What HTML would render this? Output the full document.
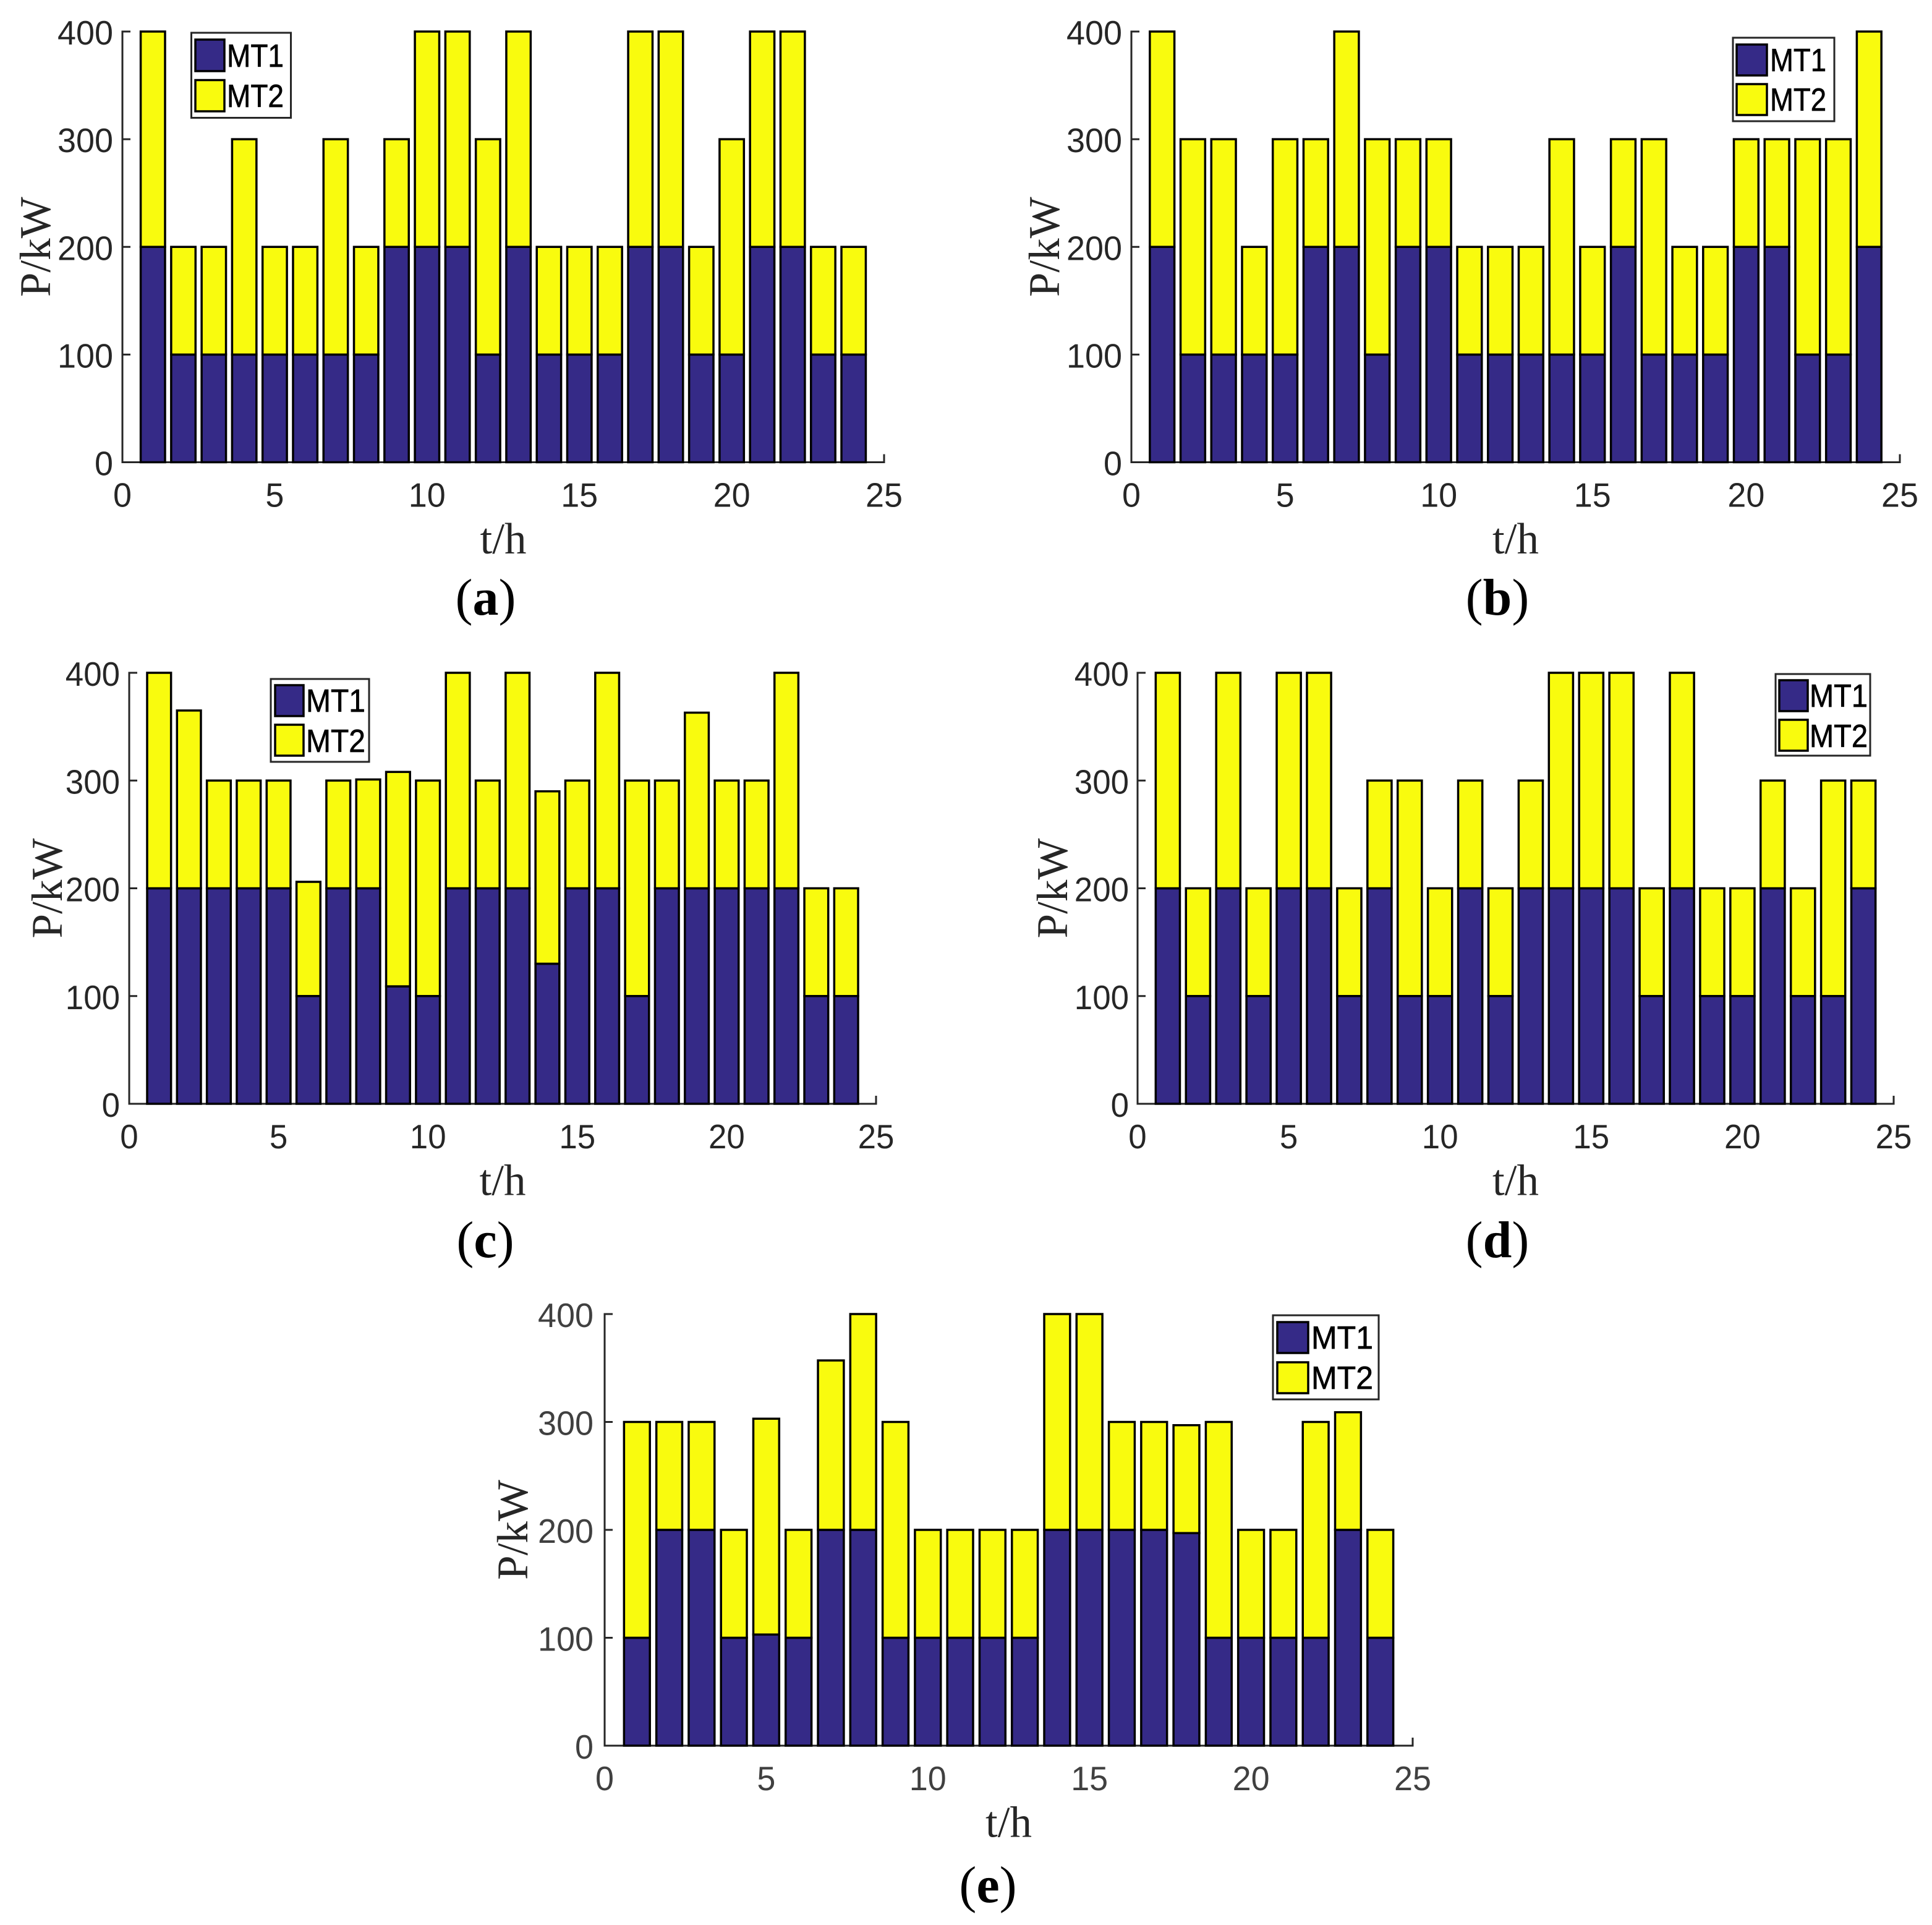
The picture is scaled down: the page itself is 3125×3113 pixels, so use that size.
<!DOCTYPE html>
<html lang="en">
<head>
<meta charset="utf-8">
<title>MT1 and MT2 output by hour</title>
<style>
html,body{margin:0;padding:0;background:#fff;}
svg{display:block;}
.sans{font-family:"Liberation Sans",sans-serif;}
.serif{font-family:"Liberation Serif",serif;}
</style>
</head>
<body>
<svg id="figure" xmlns="http://www.w3.org/2000/svg" width="3125" height="3113" viewBox="0 0 3125 3113"></svg>
<script>
const xTicks = [0, 5, 10, 15, 20, 25];
const yTicks = [0, 100, 200, 300, 400];
const hours = [1,2,3,4,5,6,7,8,9,10,11,12,13,14,15,16,17,18,19,20,21,22,23,24];
const seriesNames = ['MT1', 'MT2'];

const panelAMt1 = [200,100,100,100,100,100,100,100,200,200,200,100,200,100,100,100,200,200,100,100,200,200,100,100];
const panelAMt2 = [200,100,100,200,100,100,200,100,100,200,200,200,200,100,100,100,200,200,100,200,200,200,100,100];

const panelBMt1 = [200,100,100,100,100,200,200,100,200,200,100,100,100,100,100,200,100,100,100,200,200,100,100,200];
const panelBMt2 = [200,200,200,100,200,100,200,200,100,100,100,100,100,200,100,100,200,100,100,100,100,200,200,200];

const panelCMt1 = [200,200,200,200,200,100,200,200,109,100,200,200,200,130,200,200,100,200,200,200,200,200,100,100];
const panelCMt2 = [200,165,100,100,100,106,100,101,199,200,200,100,200,160,100,200,200,100,163,100,100,200,100,100];

const panelDMt1 = [200,100,200,100,200,200,100,200,100,100,200,100,200,200,200,200,100,200,100,100,200,100,100,200];
const panelDMt2 = [200,100,200,100,200,200,100,100,200,100,100,100,100,200,200,200,100,200,100,100,100,100,200,100];

const panelEMt1 = [100,200,200,100,103,100,200,200,100,100,100,100,100,200,200,200,200,197,100,100,100,100,200,100];
const panelEMt2 = [200,100,100,100,200,100,157,200,200,100,100,100,100,200,200,100,100,100,200,100,100,200,109,100];

const layouts = [
  {id:'a', mt1:panelAMt1, mt2:panelAMt2, x0:198,  x25:1430, yTop:51,   yZero:747.5, tickGap:15, digitW:30,   labelGap:117, ink:'#262626', capX:785.5,capY:994,
   box:[309.5,53,161,137.5],sw:[316,47,64,51,129.5,50.5],txt:[367,108,173,92]},
  {id:'b', mt1:panelBMt1, mt2:panelBMt2, x0:1830, x25:3073, yTop:51,   yZero:747.5, tickGap:15, digitW:30,   labelGap:117, ink:'#262626', capX:2422, capY:994,
   box:[2803,61,164,135], sw:[2809,49,72,50,136,50],  txt:[2863,115,179,91]},
  {id:'c', mt1:panelCMt1, mt2:panelCMt2, x0:209,  x25:1417, yTop:1088, yZero:1785,  tickGap:15, digitW:29.4, labelGap:109, ink:'#262626', capX:785,  capY:2033,
   box:[438,1098,159,134],sw:[445,46,1108,50,1172,50],txt:[495,1151,1216,96]},
  {id:'d', mt1:panelDMt1, mt2:panelDMt2, x0:1840, x25:3063, yTop:1088, yZero:1785,  tickGap:14, digitW:29.4, labelGap:114, ink:'#262626', capX:2422, capY:2033,
   box:[2872,1090,153,132],sw:[2878,46,1100,50,1164,50],txt:[2927,1143,1208,94]},
  {id:'e', mt1:panelEMt1, mt2:panelEMt2, x0:978,  x25:2285, yTop:2125, yZero:2823,  tickGap:18, digitW:30,   labelGap:125, ink:'#404040', capX:1598, capY:3076,
   box:[2059,2127,171,136],sw:[2066,50,2138,50,2203,50],txt:[2121,2181,2246,100]}
];

const NS = 'http://www.w3.org/2000/svg';
const NAVY = '#352a87';
const YELLOW = '#f9fb0e';
const root = document.getElementById('figure');

function make(parent, tag, attrs, text) {
  const el = document.createElementNS(NS, tag);
  for (const k in attrs) el.setAttribute(k, attrs[k]);
  if (text !== undefined) el.textContent = text;
  parent.appendChild(el);
  return el;
}

function drawPanel(p) {
  const xScale = v => p.x0 + (p.x25 - p.x0) * v / 25;
  const yScale = v => p.yZero - (p.yZero - p.yTop) * v / 400;
  const barWidth = (xScale(1) - xScale(0)) * 0.8;

  const g = make(root, 'g', {});
  
  

  // axes
  const axes = make(g, 'g', {stroke:'#262626', 'stroke-width':3, fill:'none'});
  
  
  make(axes, 'line', {x1:p.x0, x2:p.x0, y1:yScale(400) - 1.5, y2:yScale(0) + 1.5});
  make(axes, 'line', {x1:p.x0, x2:p.x25 + 1.5, y1:yScale(0), y2:yScale(0)});

  yTicks.forEach(v => {
    make(axes, 'line', {x1:p.x0, x2:p.x0 + 13, y1:yScale(v), y2:yScale(v)});
    const label = String(v);
    const t = make(g, 'text', {x:p.x0 - p.tickGap, y:yScale(v) + 21, 'text-anchor':'end', 'font-size':55, fill:p.ink, class:'sans', textLength:label.length * p.digitW, lengthAdjust:'spacingAndGlyphs'}, label);
    
    
  });
  xTicks.forEach(v => {
    make(axes, 'line', {x1:xScale(v), x2:xScale(v), y1:yScale(0), y2:yScale(0) - 13});
    const label = String(v);
    const t = make(g, 'text', {x:xScale(v), y:yScale(0) + 72, 'text-anchor':'middle', 'font-size':55, fill:p.ink, class:'sans', textLength:label.length * p.digitW, lengthAdjust:'spacingAndGlyphs'}, label);
    
    
  });

  // stacked bars
  hours.forEach((h, i) => {
    const a = p.mt1[i];
    const b = p.mt2[i];
    const left = xScale(h) - barWidth / 2;
    const r1 = make(g, 'rect', {x:left, y:yScale(a), width:barWidth, height:yScale(0) - yScale(a), fill:NAVY, stroke:'#000', 'stroke-width':3.5});
    
    
    const r2 = make(g, 'rect', {x:left, y:yScale(a + b), width:barWidth, height:yScale(a) - yScale(a + b), fill:YELLOW, stroke:'#000', 'stroke-width':3.5});
    
    
  });

  // axis titles
  const xt = make(g, 'text', {x:(p.x0 + p.x25) / 2, y:yScale(0) + 147.5, 'text-anchor':'middle', 'font-size':71, fill:'#262626', class:'serif'}, 't/h');
  
  
  const lx = p.x0 - p.labelGap;
  const ly = (yScale(0) + yScale(400)) / 2;
  const yt = make(g, 'text', {x:lx, y:ly, 'text-anchor':'middle', 'font-size':71, fill:'#262626', class:'serif', transform:'rotate(-90 ' + lx + ' ' + ly + ')'}, 'P/kW');
  
  

  // legend
  const lg = make(g, 'g', {});
  
  
  make(lg, 'rect', {x:p.box[0], y:p.box[1], width:p.box[2], height:p.box[3], fill:'#fff', stroke:'#262626', 'stroke-width':3});
  const swFill = [NAVY, YELLOW];
  seriesNames.forEach((name, k) => {
    const s = make(lg, 'rect', {x:p.sw[0], y:p.sw[2 + k * 2], width:p.sw[1], height:p.sw[3 + k * 2], fill:swFill[k], stroke:'#000', 'stroke-width':3.5});
    
    
    const t = make(lg, 'text', {x:p.txt[0], y:p.txt[1 + k], 'font-size':52, fill:'#000', stroke:'#000', 'stroke-width':0.7, class:'sans', textLength:p.txt[3], lengthAdjust:'spacingAndGlyphs'}, name);
    
    
  });

  // caption
  const cap = make(g, 'text', {x:p.capX, y:p.capY, 'text-anchor':'middle', 'font-size':84, fill:'#000', class:'serif'});
  
  
  make(cap, 'tspan', {}, '(');
  make(cap, 'tspan', {'font-weight':'bold'}, p.id);
  make(cap, 'tspan', {}, ')');
}

layouts.forEach(drawPanel);
</script>
</body>
</html>
